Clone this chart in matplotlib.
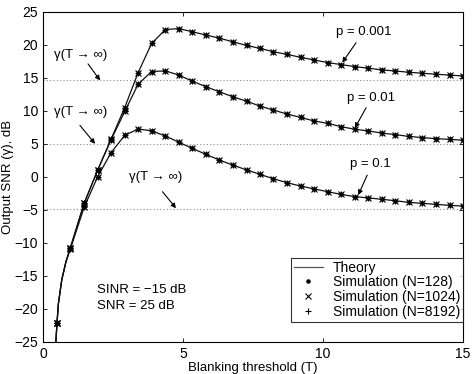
import matplotlib
matplotlib.use("Agg")
import matplotlib.pyplot as plt

plt.rcParams['font.family'] = ['Liberation Sans', 'DejaVu Sans']
plt.rcParams['axes.unicode_minus'] = True

# Simulation thresholds
T_sim = [0.5, 0.98, 1.47, 1.95, 2.43, 2.92, 3.4, 3.88, 4.37, 4.85, 5.33, 5.82,
         6.3, 6.78, 7.27, 7.75, 8.23, 8.72, 9.2, 9.68, 10.17, 10.65, 11.13,
         11.62, 12.1, 12.58, 13.07, 13.55, 14.03, 14.52, 15.0]

snr_p001 = [-22.1, -10.7, -4.0, 1.0, 5.7, 10.5, 15.8, 20.2, 22.3, 22.45, 21.97,
            21.47, 21.0, 20.45, 19.9, 19.45, 18.94, 18.54, 18.1, 17.7, 17.3,
            17.0, 16.7, 16.45, 16.2, 16.03, 15.84, 15.69, 15.54, 15.41, 15.28]
snr_p01 = [-22.1, -10.7, -4.0, 1.0, 5.6, 9.9, 14.05, 15.95, 16.05, 15.41, 14.5,
           13.64, 12.88, 12.13, 11.45, 10.72, 10.11, 9.51, 9.0, 8.47, 8.1,
           7.6, 7.21, 6.95, 6.63, 6.4, 6.12, 5.95, 5.78, 5.68, 5.55]
snr_p1 = [-22.2, -10.9, -4.6, 0.0, 3.65, 6.3, 7.24, 6.98, 6.18, 5.25, 4.31,
          3.41, 2.54, 1.79, 1.05, 0.38, -0.29, -0.89, -1.39, -1.82, -2.25,
          -2.65, -3.0, -3.18, -3.4, -3.61, -3.86, -4.01, -4.16, -4.31, -4.42]

# Extra theory points at the steep low-threshold start
T_low = [0.46, 0.55, 0.67, 0.82]
snr_low = [-25.0, -19.2, -15.6, -12.85]

# Asymptotes gamma(T -> inf)
asym = [14.65, 5.05, -4.8]

labels_p = ["p = 0.001", "p = 0.01", "p = 0.1"]

fig = plt.figure(figsize=(4.74, 3.74), dpi=100)
ax = fig.add_axes([0.0907, 0.0856, 0.886, 0.883])

for a in asym:
    ax.axhline(a, color='#8a8a8a', linestyle=(0, (1, 2)), linewidth=0.8, zorder=1)

theory_handle = None
for vals in (snr_p001, snr_p01, snr_p1):
    v_th = snr_low[:1] + [vals[0]] + snr_low[1:] + vals[1:]
    T_th = T_low[:1] + [T_sim[0]] + T_low[1:] + T_sim[1:]
    h, = ax.plot(T_th, v_th, color='#111111', linewidth=0.9, zorder=2)
    theory_handle = h

ms = 4.5
for vals in (snr_p001, snr_p01, snr_p1):
    h1, = ax.plot(T_sim, vals, linestyle='none', marker='.', color='k', markersize=ms, zorder=3)
    h2, = ax.plot(T_sim, vals, linestyle='none', marker='x', color='k', markersize=ms - 0.5,
                  markeredgewidth=0.8, zorder=3)
    h3, = ax.plot(T_sim, vals, linestyle='none', marker='+', color='k', markersize=ms + 0.5,
                  markeredgewidth=0.8, zorder=3)

ax.set_xlim(0, 15)
ax.set_ylim(-25, 25)
ax.set_xticks([0, 5, 10, 15])
ax.set_yticks(list(range(-25, 26, 5)))
ax.tick_params(direction='in', top=True, right=True, labelsize=10, length=3, width=0.6)
for s in ax.spines.values():
    s.set_linewidth(0.8)

ax.set_xlabel("Blanking threshold (T)", fontsize=9.5, labelpad=1)
ax.set_ylabel("Output SNR (γ), dB", fontsize=9.5, labelpad=0)

arrow = dict(arrowstyle='-|>', color='k', lw=0.8, mutation_scale=7, shrinkA=0, shrinkB=0)
fs = 9.5
# gamma(T->inf) annotations
ax.annotate("", xy=(2.04, 14.6), xytext=(1.61, 17.1), arrowprops=arrow)
ax.text(1.36, 18.4, "γ(T → ∞)", ha='center', va='center', fontsize=fs)
ax.annotate("", xy=(1.86, 5.0), xytext=(1.32, 7.8), arrowprops=arrow)
ax.text(1.36, 9.86, "γ(T → ∞)", ha='center', va='center', fontsize=fs)
ax.annotate("", xy=(4.75, -4.75), xytext=(4.27, -2.25), arrowprops=arrow)
ax.text(4.04, 0.0, "γ(T → ∞)", ha='center', va='center', fontsize=fs)

# p annotations
ax.annotate("", xy=(10.69, 17.3), xytext=(11.18, 20.3), arrowprops=arrow)
ax.text(11.46, 21.97, labels_p[0], ha='center', va='center', fontsize=fs)
ax.annotate("", xy=(11.14, 7.4), xytext=(11.54, 10.46), arrowprops=arrow)
ax.text(11.71, 11.97, labels_p[1], ha='center', va='center', fontsize=fs)
ax.annotate("", xy=(11.26, -2.75), xytext=(11.58, 0.27), arrowprops=arrow)
ax.text(11.7, 1.89, labels_p[2], ha='center', va='center', fontsize=fs)

ax.text(1.94, -17.1, "SINR = −15 dB", ha='left', va='center', fontsize=fs)
ax.text(1.94, -19.6, "SNR = 25 dB", ha='left', va='center', fontsize=fs)

leg = ax.legend([theory_handle, h1, h2, h3],
                ["Theory", "Simulation (N=128)", "Simulation (N=1024)", "Simulation (N=8192)"],
                loc='lower right', bbox_to_anchor=(1.0, 0.062), borderaxespad=0,
                fontsize=10, frameon=True, fancybox=False, edgecolor='k',
                handlelength=2.1, handletextpad=0.7, borderpad=0.2, labelspacing=0.05)
leg.get_frame().set_linewidth(0.8)
leg.legend_handles[0].set_color('#555555')

fig.savefig("out.png", dpi=100)
